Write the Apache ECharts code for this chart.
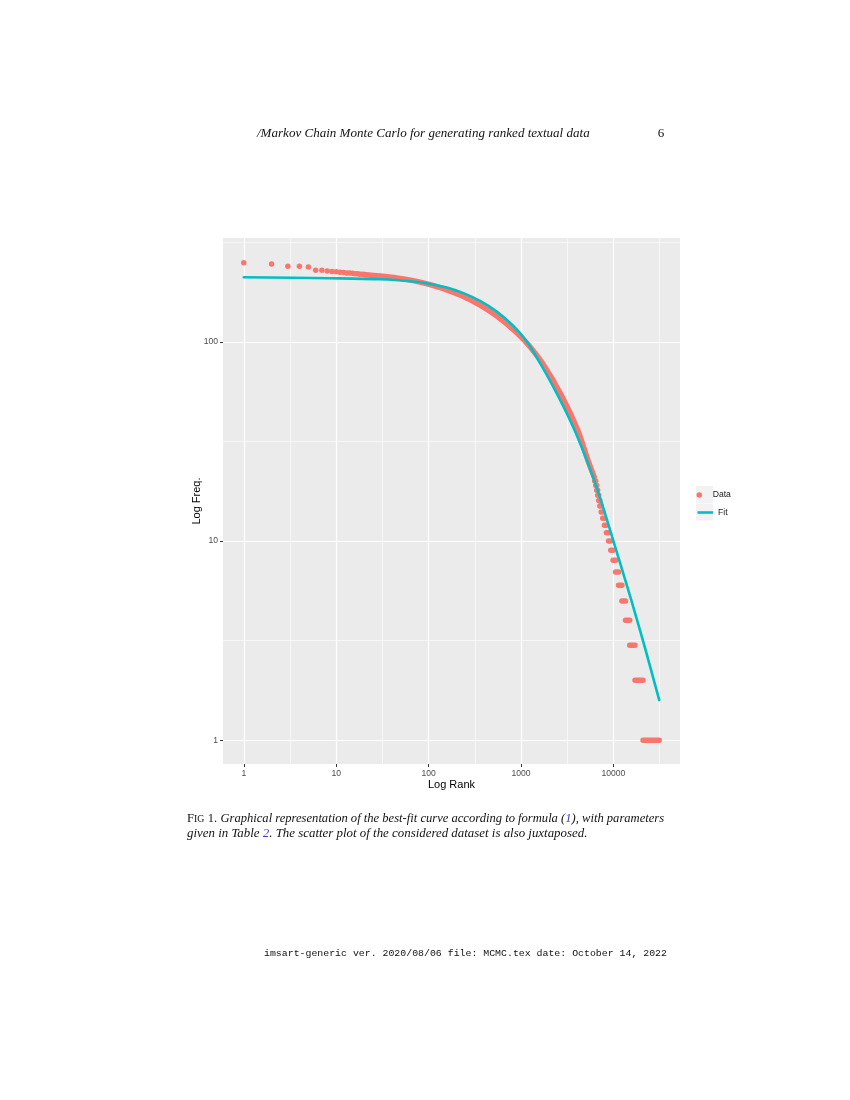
<!DOCTYPE html>
<html>
<head>
<meta charset="utf-8">
<script src="https://cdn.jsdelivr.net/npm/echarts@6/dist/echarts.min.js"></script>
<style>
html,body{margin:0;padding:0;background:#ffffff;}
#main{width:850px;height:1100px;}
</style>
</head>
<body>
<div id="main"></div>
<script>
// ---------------- data ----------------
// individual leading points of the observed rank/frequency data
const headRank = [1, 2, 3, 4, 5, 6, 7, 8, 9, 10, 11, 12, 13, 14, 15, 16, 17, 18, 19, 20];
const headFreq = [249.6, 246.6, 240, 240, 238, 229, 229, 227, 226, 225, 224, 223, 222, 222, 221, 220, 220, 219, 219, 218];

// dense part of the observed data (points overlap into a continuous band)
const bandRank = [20, 30, 45, 68, 104, 157, 238, 361, 547, 827, 1165, 1722, 2767, 4084, 5400, 6190];
const bandFreq = [218, 214.2, 209.8, 203.2, 194.1, 182.7, 169.3, 153, 134.8, 115.2, 98.3, 77.6, 53.4, 36.3, 24.8, 21];

// low-frequency tail: each integer frequency is shared by a run of ranks
const plateauFreq = [1, 2, 3, 4, 5, 6, 7, 8, 9, 10, 11, 12, 13, 14, 15, 16, 17, 18, 19, 20];
const plateauFrom = [20900, 17100, 15000, 13500, 12350, 11350, 10550, 9900, 9350, 8855, 8390, 7980, 7655, 7370, 7125, 6925, 6755, 6590, 6430, 6270];
const plateauTo   = [31300, 20900, 17100, 15000, 13500, 12350, 11350, 10550, 9900, 9350, 8855, 8390, 7980, 7655, 7370, 7125, 6925, 6755, 6590, 6430];

// best-fit curve
const fitRank = [1, 8.5, 30, 68, 104, 157, 238, 360, 547, 827, 1165, 1610, 2540, 3790, 5650, 7290, 10000, 15600, 22300, 31300];
const fitFreq = [211.4, 209, 206.6, 201, 195.6, 187.5, 175.9, 160.7, 142, 120.2, 100, 78.2, 53.1, 36.1, 22.7, 16.1, 10, 5.05, 2.83, 1.59];

// axis ticks
const xTickValues = [1, 10, 100, 1000, 10000];
const xMinorValues = [3.1623, 31.623, 316.23, 3162.3, 31623];
const yTickValues = [1, 10, 100];
const yMinorValues = [3.1623, 31.623, 316.23];

// ---------------- styling ----------------
const RED = '#F8766D';
const TEAL = '#00BFC4';
const SANS = '"Liberation Sans", Arial, Helvetica, sans-serif';
const SERIF = '"Liberation Serif", "Times New Roman", serif';
const MONO = '"Liberation Mono", "DejaVu Sans Mono", monospace';
const DOT = 5.5;

const mctx = document.createElement('canvas').getContext('2d');
function sizeFor(text, style, family, target) {
  mctx.font = style + ' 100px ' + family;
  return 100 * target / mctx.measureText(text).width;
}

const headerText = '/Markov Chain Monte Carlo for generating ranked textual data';
const cap1Plain = 'FIG 1. Graphical representation of the best-fit curve according to formula (1), with parameters';
const cap2Plain = 'given in Table 2. The scatter plot of the considered dataset is also juxtaposed.';
const footerText = 'imsart-generic ver. 2020/08/06 file: MCMC.tex date: October 14, 2022';
const headerSize = sizeFor(headerText, 'italic', SERIF, 333);
const cap1Size = sizeFor(cap1Plain, 'italic', SERIF, 481);
const cap2Size = sizeFor(cap2Plain, 'italic', SERIF, 401);
const footSize = sizeFor(footerText, '', MONO, 404);

const plateauData = [];
plateauFreq.forEach(function (f, i) {
  plateauData.push([plateauFrom[i], f], [plateauTo[i], f], [plateauTo[i], '-']);
});

const chart = echarts.init(document.getElementById('main'), null, {renderer: 'canvas', width: 850, height: 1100});

const majorSplit = {show: true, lineStyle: {color: '#FFFFFF', width: 1.2}};
const minorSplit = {show: true, lineStyle: {color: '#FFFFFF', width: 0.6}};
const tickStyle = {show: true, length: 3, lineStyle: {color: '#333333', width: 1}};
const labelStyle = {fontSize: 8.6, color: '#4D4D4D', fontFamily: SANS};

function capRich(s) {
  return {
    sc: {fontFamily: SERIF, fontSize: s, fill: '#111'},
    scs: {fontFamily: SERIF, fontSize: s * 0.78, fill: '#111'},
    it: {fontFamily: SERIF, fontSize: s, fontStyle: 'italic', fill: '#111'},
    bl: {fontFamily: SERIF, fontSize: s, fontStyle: 'italic', fill: '#4040D8'}
  };
}

const option = {
  backgroundColor: '#FFFFFF',
  animation: false,
  grid: {
    left: 223, right: 170, top: 238, bottom: 336,
    show: true, backgroundColor: '#EBEBEB', borderWidth: 0
  },
  xAxis: [
    {
      type: 'log', logBase: 10, min: 0.596, max: 52500, gridIndex: 0, position: 'bottom',
      name: 'Log Rank', nameLocation: 'middle', nameGap: 15,
      nameTextStyle: {fontSize: 11, color: '#000000', fontFamily: SANS},
      axisLine: {show: false},
      axisTick: Object.assign({customValues: xTickValues}, tickStyle),
      axisLabel: Object.assign({customValues: xTickValues, margin: 5,
        formatter: function (v) { return String(Math.round(v)); }}, labelStyle),
      splitLine: majorSplit,
      minorTick: {show: false}, minorSplitLine: {show: false}
    },
    {
      type: 'log', logBase: 10, min: 0.596, max: 52500, gridIndex: 0, position: 'top',
      axisLine: {show: false},
      axisTick: {show: false, customValues: xMinorValues},
      axisLabel: {show: false, customValues: xMinorValues},
      splitLine: minorSplit
    }
  ],
  yAxis: [
    {
      type: 'log', logBase: 10, min: 0.759, max: 332.7, gridIndex: 0, position: 'left',
      name: 'Log Freq.', nameLocation: 'middle', nameGap: 21, nameRotate: 90,
      nameMoveOverlap: false,
      nameTextStyle: {fontSize: 11, color: '#000000', fontFamily: SANS},
      axisLine: {show: false},
      axisTick: Object.assign({customValues: yTickValues}, tickStyle),
      axisLabel: Object.assign({customValues: yTickValues, margin: 5,
        formatter: function (v) { return String(Math.round(v)); }}, labelStyle),
      splitLine: majorSplit
    },
    {
      type: 'log', logBase: 10, min: 0.759, max: 332.7, gridIndex: 0, position: 'right',
      axisLine: {show: false},
      axisTick: {show: false, customValues: yMinorValues},
      axisLabel: {show: false, customValues: yMinorValues},
      splitLine: minorSplit
    }
  ],
  legend: [
    {
      data: [{name: 'Data', icon: 'circle', itemStyle: {color: RED}}],
      left: 696.5, top: 490, padding: 0, itemWidth: 17, itemHeight: DOT,
      selectedMode: false,
      textStyle: {fontSize: 8.6, color: '#1A1A1A', fontFamily: SANS, lineHeight: 10}
    },
    {
      data: [{name: 'Fit', icon: 'rect', itemStyle: {color: TEAL}}],
      left: 697.5, top: 507.5, padding: 0, itemWidth: 15.5, itemHeight: 2.6,
      selectedMode: false,
      textStyle: {fontSize: 8.6, color: '#1A1A1A', fontFamily: SANS, lineHeight: 10}
    }
  ],
  graphic: [
    {type: 'rect', z: 0, shape: {x: 696, y: 486, width: 17, height: 17}, style: {fill: '#F2F2F2'}},
    {type: 'rect', z: 0, shape: {x: 696, y: 503.5, width: 17, height: 17}, style: {fill: '#F2F2F2'}},
    {type: 'text', x: 257, y: 134,
      style: {text: headerText, font: 'italic ' + headerSize.toFixed(2) + 'px ' + SERIF,
        fill: '#111', textAlign: 'left', textVerticalAlign: 'middle'}},
    {type: 'text', x: 661, y: 134,
      style: {text: '6', font: headerSize.toFixed(2) + 'px ' + SERIF,
        fill: '#111', textAlign: 'center', textVerticalAlign: 'middle'}},
    {type: 'text', x: 187, y: 819,
      style: {text: '{sc|F}{scs|IG} {sc|1.} {it|Graphical representation of the best-fit curve according to formula (}{bl|1}{it|), with parameters}',
        rich: capRich(cap1Size), textAlign: 'left', textVerticalAlign: 'middle'}},
    {type: 'text', x: 187, y: 834,
      style: {text: '{it|given in Table }{bl|2}{it|. The scatter plot of the considered dataset is also juxtaposed.}',
        rich: capRich(cap2Size), textAlign: 'left', textVerticalAlign: 'middle'}},
    {type: 'text', x: 264, y: 953,
      style: {text: footerText, font: footSize.toFixed(2) + 'px ' + MONO,
        fill: '#111', textAlign: 'left', textVerticalAlign: 'middle'}}
  ],
  series: [
    {
      name: 'Data', type: 'line', xAxisIndex: 0, yAxisIndex: 0,
      data: bandRank.map(function (r, i) { return [r, bandFreq[i]]; }),
      showSymbol: false, smooth: 0.3, silent: true,
      lineStyle: {color: RED, width: DOT, cap: 'round', join: 'round'},
      itemStyle: {color: RED}, z: 2
    },
    {
      name: 'Data', type: 'line', xAxisIndex: 0, yAxisIndex: 0,
      data: plateauData, showSymbol: false, connectNulls: false, silent: true,
      lineStyle: {color: RED, width: DOT, cap: 'round', join: 'round'},
      itemStyle: {color: RED}, z: 2
    },
    {
      name: 'Data', type: 'scatter', xAxisIndex: 0, yAxisIndex: 0,
      data: headRank.map(function (r, i) { return [r, headFreq[i]]; }),
      symbol: 'circle', symbolSize: DOT, silent: true,
      itemStyle: {color: RED, opacity: 1}, z: 2
    },
    {
      name: 'Fit', type: 'line', xAxisIndex: 0, yAxisIndex: 0,
      data: fitRank.map(function (r, i) { return [r, fitFreq[i]]; }),
      showSymbol: false, smooth: 0.3, silent: true,
      lineStyle: {color: TEAL, width: 2.6, cap: 'round', join: 'round'},
      itemStyle: {color: TEAL}, z: 3
    }
  ]
};
chart.setOption(option);
</script>
</body>
</html>
